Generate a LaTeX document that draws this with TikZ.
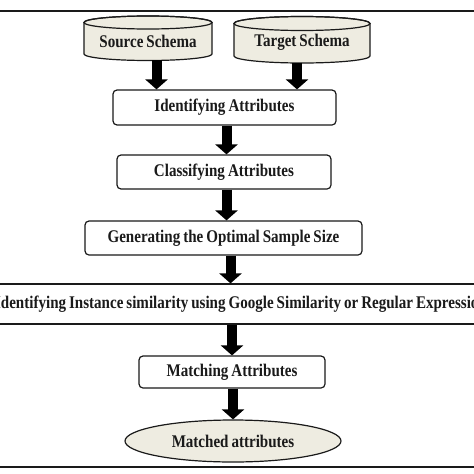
\documentclass[tikz,border=0pt]{standalone}
\usepackage{fontspec}
\setmainfont{Liberation Serif}[FakeStretch=0.845,WordSpace=0.8]
\usetikzlibrary{arrows.meta,shapes.geometric}
\definecolor{beige}{HTML}{EEECE1}
\definecolor{ink}{HTML}{1A1A1A}
\tikzset{
  every node/.style={font=\fontsize{17.8}{20}\selectfont\bfseries, text=ink},
  procbox/.style={draw=ink, line width=1.2pt, rounded corners=4pt, fill=white, inner sep=0pt},
  blockarrow/.style={line width=10pt, draw=black, -{Triangle[width=22pt,length=10pt]}, shorten <=0pt},
  cylfill/.style={draw=ink, line width=1.2pt, fill=beige},
  rule/.style={draw=ink, line width=2pt}
}
\begin{document}
\begin{tikzpicture}[x=1pt,y=-1pt]
\useasboundingbox (0,0) rectangle (474,474);
\clip (0,0) rectangle (474,474);
\fill[white] (0,0) rectangle (474,474);
% rules
\coordinate (tl) at (0,11);
\coordinate (tr) at (474,11);
\coordinate (bl) at (0,467);
\coordinate (br) at (474,467);
\draw[rule] (tl) -- (tr);
\draw[rule] (bl) -- (br);
% source cylinder
\path[cylfill] (84,22.5) -- (84,54) arc[start angle=180,end angle=360,x radius=64pt,y radius=6.5pt]
  -- (212,22.5) arc[start angle=0,end angle=180,x radius=64pt,y radius=6.5pt] -- cycle;
\draw[draw=ink, line width=1.2pt] (148,22.5) ellipse[x radius=64pt,y radius=6.5pt];
\node[minimum width=128pt, minimum height=44pt, inner sep=0pt] (src) at (148,38) {};
\node (srct) at (148,41.5) {Source Schema};
% target cylinder
\path[cylfill] (234,23.5) -- (234,56) arc[start angle=180,end angle=360,x radius=68pt,y radius=7pt]
  -- (370,23.5) arc[start angle=0,end angle=180,x radius=68pt,y radius=7pt] -- cycle;
\draw[draw=ink, line width=1.2pt] (302,23.5) ellipse[x radius=68pt,y radius=7pt];
\node[minimum width=136pt, minimum height=46pt, inner sep=0pt] (tgt) at (302,39.5) {};
\node (tgtt) at (302,42.5) {Target Schema};
% process boxes
\node[procbox, minimum width=223pt, minimum height=35pt] (ident) at (224.5,107.5) {Identifying Attributes};
\node[procbox, minimum width=214pt, minimum height=34pt] (class) at (224,172) {Classifying Attributes};
\node[procbox, minimum width=277pt, minimum height=34pt] (gen) at (223.5,238) {Generating the Optimal Sample Size};
\node[draw=ink, line width=1.2pt, fill=white, minimum height=40pt, inner xsep=2.5pt, inner ysep=0pt,
      anchor=west] (inst) at (-8,304)
      {\makebox[540pt][l]{Identifying Instance similarity using Google Similarity or Regular Expression}};
\node[procbox, minimum width=186pt, minimum height=32pt] (match) at (232,372) {Matching Attributes};
\node[ellipse, draw=ink, line width=1.2pt, fill=beige, minimum width=216pt, minimum height=42pt, inner sep=0pt] (done) at (233,441) {Matched attributes};
% arrows
\draw[blockarrow] (src.south -| 156.5,0) -- (ident.north -| 156.5,0);
\draw[blockarrow] (tgt.south -| 297,0) -- (ident.north -| 297,0);
\draw[blockarrow] (ident.south -| 226.5,0) -- (class.north -| 226.5,0);
\draw[blockarrow] (class.south -| 226.5,0) -- (gen.north -| 226.5,0);
\draw[blockarrow] (gen.south -| 230.5,0) -- (inst.north -| 230.5,0);
\draw[blockarrow] (inst.south -| 232,0) -- (match.north -| 232,0);
\draw[blockarrow] (match.south -| 233,0) -- (done.north -| 233,0);
\end{tikzpicture}
\end{document}
